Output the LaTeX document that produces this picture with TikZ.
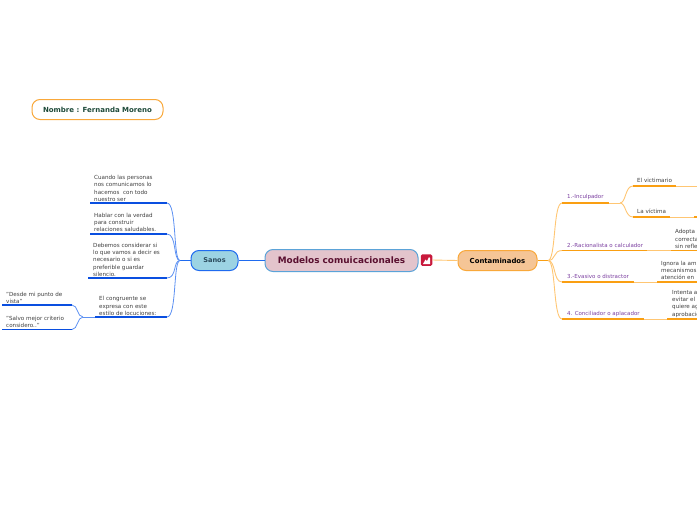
\documentclass[tikz,border=0pt]{standalone}
\usepackage{fontspec}
\setmainfont{DejaVu Sans}
\definecolor{bl}{HTML}{0A4FE0}
\definecolor{bll}{HTML}{5C90F2}
\definecolor{og}{HTML}{FA9F12}
\definecolor{ogl}{HTML}{FFC673}
\definecolor{tx}{HTML}{3F3F3F}
\definecolor{pu}{HTML}{7B3FA0}
\definecolor{mainf}{HTML}{E3C4CC}
\definecolor{mainb}{HTML}{5BA3D8}
\definecolor{mainfx}{HTML}{5A1030}
\definecolor{sanf}{HTML}{9CD3E3}
\definecolor{sanb}{HTML}{1F6BEF}
\definecolor{sanx}{HTML}{2A4A5C}
\definecolor{conf}{HTML}{F5C596}
\definecolor{conb}{HTML}{F9A83A}
\definecolor{nomx}{HTML}{1E4A3A}
\definecolor{icof}{HTML}{C8193C}
\tikzset{
 pill/.style={draw,rounded corners=8pt,line width=1pt,align=center,inner sep=0pt},
 leaf/.style={font=\fontsize{5.6}{7.2}\selectfont,text=tx,align=left,anchor=south west,inner sep=0pt},
 plab/.style={font=\fontsize{5.5}{7.2}\selectfont,text=pu,align=left,anchor=south west,inner sep=0pt},
 blt/.style={bl,line width=1.2pt},
 blc/.style={bll,line width=.8pt},
 ogt/.style={og,line width=1.3pt},
 ogc/.style={ogl,line width=.9pt},
}
\begin{document}
\begin{tikzpicture}[x=1pt,y=-1pt]
\useasboundingbox (0,0) rectangle (697,520);
\begin{scope}
\clip (0,0) rectangle (697,520);
% nodes
\node[pill,draw=conb,fill=white,minimum width=131pt,minimum height=20pt,font=\bfseries\fontsize{7}{8}\selectfont,text=nomx] (nom) at (97.5,109.5) {Nombre : Fernanda Moreno};
\node[pill,draw=mainb,fill=mainf,minimum width=153pt,minimum height=22pt,font=\bfseries\fontsize{8.9}{10}\selectfont,text=mainfx] (main) at (341.5,260.5) {Modelos comuicacionales};
\node[pill,draw=sanb,fill=sanf,minimum width=47pt,minimum height=20pt,font=\bfseries\fontsize{6.6}{8}\selectfont,text=sanx] (san) at (214.5,260.5) {Sanos};
\node[pill,draw=conb,fill=conf,minimum width=79pt,minimum height=20pt,font=\bfseries\fontsize{6.9}{8}\selectfont,text=black] (con) at (497.5,260.5) {Contaminados};
\node[fill=icof,rounded corners=1.5pt,minimum size=11.5pt,inner sep=0pt] (ico) at (426.5,260) {};
\fill[white] (423,264) -- (425.5,259.5) -- (427,261) -- (429,257) -- (430,258) -- (430,264) -- cycle;
% connectors to hubs
\coordinate (hl) at (180,260.5);
\coordinate (hr) at (548,260.5);
\draw[sanb,line width=.9pt] (main.west) -- (san.east);
\draw[sanb,line width=.9pt] (san.west) -- (hl);
\draw[ogc] (ico.east) -- (con.west);
\draw[og,line width=.9pt] (con.east) -- (hr);
% left leaves
\foreach \n/\y/\xa in {a/203/90,b/234/90,c/278/88,d/317/95}{
 \coordinate (\n r) at (167,\y);
 \coordinate (\n l) at (\xa,\y);
 \draw[blt] (\n l) -- (\n r);
 \draw[blc] (hl) .. controls (173,260.5) and (177,\y) .. (\n r);
}
\node[leaf] (ta) at (94,201.5) {Cuando las personas\\nos comunicamos lo\\hacemos\ \ con todo\\nuestro ser};
\node[leaf] (tb) at (94,232) {Hablar con la verdad\\para construir\\relaciones saludables.};
\node[leaf] (tc) at (93,276.5) {Debemos considerar si\\lo que vamos a decir es\\necesario o si es\\preferible guardar\\silencio.};
\node[leaf] (td) at (99,315.5) {El congruente se\\expresa con este\\estilo de locuciones:};
% far left
\coordinate (e1l) at (2,305); \coordinate (e1r) at (72,305);
\coordinate (e2l) at (2,329.5); \coordinate (e2r) at (72,329.5);
\coordinate (hd) at (83,317);
\draw[blt] (e1l) -- (e1r);
\draw[blt] (e2l) -- (e2r);
\draw[blc] (dl) -- (hd);
\draw[blc] (hd) .. controls (77,317) and (78,305) .. (e1r);
\draw[blc] (hd) .. controls (77,317) and (78,329.5) .. (e2r);
\node[leaf] (te) at (6,303.5) {"Desde mi punto de\\vista"};
\node[leaf] (tf) at (6,327.5) {"Salvo mejor criterio\\considero.."};
% right branches
\foreach \n/\y/\xb/\xc in {p/203/609/609,q/250.5/647/671,r/282/634/657,s/319/644/667}{
 \coordinate (\n l) at (562,\y);
 \coordinate (\n m) at (\xb,\y);
 \coordinate (\n n) at (\xc,\y);
 \draw[ogt] (\n l) -- (\n m);
 \draw[ogc] (\n m) -- (\n n);
 \draw[ogc] (hr) .. controls (556,260.5) and (553,\y) .. (\n l);
}
\draw[ogt] (qn) -- (697,250.5);
\draw[ogt] (rn) -- (697,282);
\draw[ogt] (sn) -- (697,319);
\node[plab] (pt) at (567,199.5) {1.-Inculpador};
\node[plab] (qt) at (567,248) {2.-Racionalista o calculador};
\node[plab] (rt) at (567,278.5) {3.-Evasivo o distractor};
\node[plab] (st) at (567,316.5) {4. Conciliador o aplacador};
% second level
\coordinate (u) at (633,186); \coordinate (v) at (633,217);
\coordinate (hp) at (620,203);
\draw[ogc] (pm) -- (hp);
\draw[ogc] (hp) .. controls (626,203) and (625,186) .. (u);
\draw[ogc] (hp) .. controls (626,203) and (625,217) .. (v);
\draw[ogt] (u) -- (676,186);
\draw[ogt] (v) -- (670,217);
\draw[ogc] (676,186) -- (697,186);
\draw[ogc] (670,217) -- (694,217);
\draw[ogt] (694,217) -- (697,217);
\node[leaf] (ut) at (637,183) {El victimario};
\node[leaf] (vt) at (637,214) {La víctima};
\node[leaf] (qx) at (675,248.5) {Adopta\\correcta\\sin refle};
\node[leaf] (rx) at (661,280) {Ignora la am\\mecanismos\\atención en};
\node[leaf] (sx) at (672,317.5) {Intenta a\\evitar el\\quiere ag\\aprobació};
\end{scope}
\end{tikzpicture}
\end{document}
